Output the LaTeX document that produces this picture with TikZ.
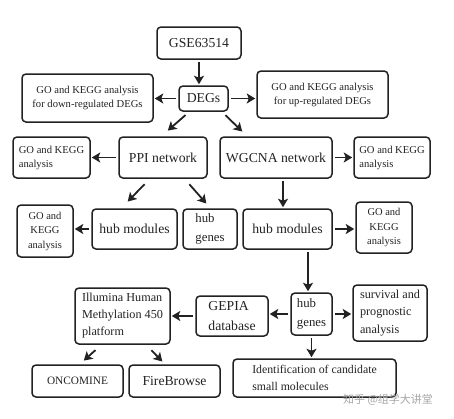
\documentclass[tikz,border=0pt]{standalone}
\usepackage{fontspec}
\setmainfont{Liberation Serif}
\newfontfamily\cjk{Noto Sans CJK SC}
\usetikzlibrary{arrows.meta}
\definecolor{ink}{HTML}{222222}
\tikzset{
  box/.style={draw=ink, line width=1.5pt, rounded corners=4pt, inner sep=2pt, text=ink, align=center},
  big/.style={font=\fontsize{13.7}{19}\selectfont},
  mid/.style={font=\fontsize{12.2}{17}\selectfont},
  small/.style={font=\fontsize{10.6}{14}\selectfont},
  arr/.style={draw=ink, line width=1.8pt, -{Stealth[length=8.5pt,width=10pt,inset=2pt]}, shorten <=2pt, shorten >=1pt}
}
\newcommand{\bx}[7]{\node[box,#1,minimum width=#5pt,minimum height=#6pt] (#2) at (#3,#4) {#7};}
\begin{document}
\begin{tikzpicture}[x=1pt,y=-1pt]
\useasboundingbox (0,0) rectangle (454,418);
% row 0-1
\bx{big}{gse}{199}{43}{84}{32}{GSE63514}
\bx{big}{degs}{203.5}{98.5}{49}{25}{DEGs}
\bx{small}{gol}{87.5}{98}{131}{48}{GO and KEGG analysis\\for down-regulated DEGs}
\bx{small}{gor}{322.5}{94.5}{131}{47}{GO and KEGG analysis\\for up-regulated DEGs}
% row 2
\bx{small,align=left}{goa}{51.5}{157.5}{77}{41}{GO and KEGG\\analysis}
\bx{big}{ppi}{163}{157.5}{88}{41}{PPI network}
\bx{big}{wgcna}{276}{157.5}{112}{41}{WGCNA network}
\bx{small,align=left}{gob}{392}{157.5}{76}{41}{GO and KEGG\\analysis}
% row 3
\bx{small,font=\fontsize{10.5}{14.5}\selectfont}{goc}{45}{231}{56}{52}{GO and\\KEGG\\analysis}
\bx{big}{hubma}{134.5}{229}{85}{40}{hub modules}
\bx{big,align=left,font=\fontsize{12.8}{19.5}\selectfont}{hubga}{210}{229}{54}{40}{hub\\genes}
\bx{big}{hubmb}{287.5}{229}{89}{40}{hub modules}
\bx{small,font=\fontsize{10.5}{14.5}\selectfont}{god}{384}{227.5}{56}{51}{GO and\\KEGG\\analysis}
% row 4
\bx{big,align=left,font=\fontsize{12.8}{19}\selectfont}{hubgb}{311.5}{314}{41}{42}{hub\\genes}
\bx{mid,align=left,font=\fontsize{12.2}{17.5}\selectfont}{surv}{390}{313}{74}{56}{survival and\\prognostic\\analysis}
\bx{big,align=left,font=\fontsize{13.7}{19.5}\selectfont}{gepia}{232}{316}{72}{40}{GEPIA\\database}
\bx{mid,align=left}{illum}{122.5}{316}{95}{56}{Illumina Human\\Methylation 450\\platform}
% row 5
\bx{mid,align=left,font=\fontsize{11.8}{17}\selectfont}{ident}{314.5}{378}{163}{38}{Identification of candidate\\small molecules}
\bx{mid,font=\fontsize{11.3}{15}\selectfont}{onco}{77.5}{381}{91}{32}{ONCOMINE}
\bx{big}{fire}{174.5}{381}{91}{32}{FireBrowse}
% connectors
\draw[arr] (gse.south) -- (gse.south |- degs.north);
\draw[arr] (degs.west) -- (degs.west -| gol.east);
\draw[arr] (degs.east) -- (degs.east -| gor.west);
\draw[arr] ([xshift=-16.5pt,yshift=-2pt]degs.south) -- ([xshift=4pt,yshift=5pt]ppi.north);
\draw[arr] ([xshift=20.5pt,yshift=-2pt]degs.south) -- ([xshift=-33pt,yshift=4pt]wgcna.north);
\draw[arr] (ppi.west) -- (ppi.west -| goa.east);
\draw[arr] (wgcna.east) -- (wgcna.east -| gob.west);
\draw[arr] ([xshift=-17pt,yshift=-4pt]ppi.south) -- ([xshift=-7.5pt,yshift=6pt]hubma.north);
\draw[arr] ([xshift=25pt,yshift=-4pt]ppi.south) -- ([xshift=-3pt,yshift=4pt]hubga.north);
\draw[arr] ([xshift=7pt]wgcna.south) -- ([xshift=7pt]wgcna.south |- hubmb.north);
\draw[arr] (hubma.west) -- (hubma.west -| goc.east);
\draw[arr] (hubmb.east) -- (hubmb.east -| god.west);
\draw[arr] ([xshift=20.5pt]hubmb.south) -- ([xshift=20.5pt]hubmb.south |- hubgb.north);
\draw[arr] (hubgb.west) -- (hubgb.west -| gepia.east);
\draw[arr] (hubgb.east) -- (hubgb.east -| surv.west);
\draw[arr] (gepia.west) -- (gepia.west -| illum.east);
\draw[arr] (hubgb.south) -- (hubgb.south |- ident.north);
\draw[arr] ([xshift=-25.5pt,yshift=-4pt]illum.south) -- ([xshift=5.5pt,yshift=3pt]onco.north);
\draw[arr] ([xshift=27.5pt,yshift=-4pt]illum.south) -- ([xshift=-11.5pt,yshift=2pt]fire.north);
% watermark
\node[text=black!35, font=\cjk\fontsize{11}{13}\selectfont, inner sep=0pt] (wm) at (388,400) {知乎 @组学大讲堂};
\end{tikzpicture}
\end{document}
